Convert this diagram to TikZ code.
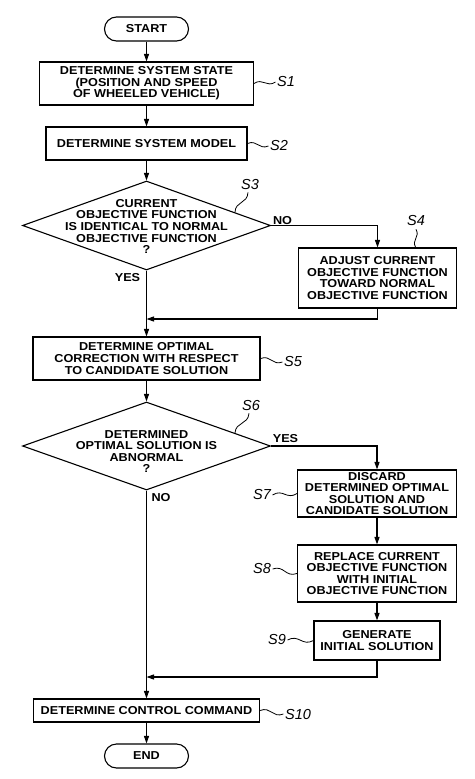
\documentclass[tikz,border=0pt]{standalone}
\usepackage{fontspec}
\setmainfont{Liberation Sans}
\newfontfamily\bxfont[FakeStretch=1.1]{Liberation Sans}
\usetikzlibrary{shapes.geometric,arrows.meta,calc}
\begin{document}
\begin{tikzpicture}[x=1pt,y=-1pt,
  every node/.style={inner sep=0pt},
  btxt/.style={align=center, font=\bxfont\bfseries\fontsize{11.5}{11.6}\selectfont},
  box/.style={btxt, draw, line width=1.1pt},
  term/.style={box, rounded corners=12pt},
  dia/.style={draw, diamond, line width=1.1pt},
  lab/.style={font=\itshape\fontsize{14.5}{14.5}\selectfont},
  ln/.style={line width=1.1pt},
  arr/.style={ln, -{Triangle[length=7.5pt,width=5pt]}},
  squig/.style={line width=0.8pt, to path={.. controls ($(\tikztostart)!0.5!30:(\tikztotarget)$) and ($(\tikztotarget)!0.5!30:(\tikztostart)$) .. (\tikztotarget)}}
]
\useasboundingbox (0,0) rectangle (474,779);

% nodes
\node[term, minimum width=84pt, minimum height=24pt] (start) at (146.5,29) {START};
\node[box, minimum width=214pt, minimum height=43pt] (s1) at (146.5,83.5) {DETERMINE SYSTEM STATE\\(POSITION AND SPEED\\OF WHEELED VEHICLE)};
\node[box, minimum width=201pt, minimum height=33pt] (s2) at (146.5,143.5) {DETERMINE SYSTEM MODEL};
\node[dia, minimum width=248pt, minimum height=89pt] (s3) at (146.5,225.5) {};
\node[btxt] (s3t) at (146.5,226.5) {CURRENT\\OBJECTIVE FUNCTION\\IS IDENTICAL TO NORMAL\\OBJECTIVE FUNCTION\\?};
\node[box, minimum width=158pt, minimum height=60pt] (s4) at (377.5,278) {ADJUST CURRENT\\OBJECTIVE FUNCTION\\TOWARD NORMAL\\OBJECTIVE FUNCTION};
\node[box, minimum width=227pt, minimum height=43pt] (s5) at (146.5,358.5) {DETERMINE OPTIMAL\\CORRECTION WITH RESPECT\\TO CANDIDATE SOLUTION};
\node[dia, minimum width=248pt, minimum height=88pt] (s6) at (146.5,446) {};
\node[btxt] (s6t) at (146.5,451.5) {DETERMINED\\OPTIMAL SOLUTION IS\\ABNORMAL\\?};
\node[box, minimum width=159pt, minimum height=47pt] (s7) at (377,493.5) {DISCARD\\DETERMINED OPTIMAL\\SOLUTION AND\\CANDIDATE SOLUTION};
\node[box, minimum width=159pt, minimum height=57pt] (s8) at (377,573.5) {REPLACE CURRENT\\OBJECTIVE FUNCTION\\WITH INITIAL\\OBJECTIVE FUNCTION};
\node[box, minimum width=126pt, minimum height=39pt] (s9) at (377,640.5) {GENERATE\\INITIAL SOLUTION};
\node[box, minimum width=226pt, minimum height=23pt] (s10) at (146.5,710.5) {DETERMINE CONTROL COMMAND};
\node[term, minimum width=84pt, minimum height=24pt] (end) at (146.5,756) {END};

% branch labels
\node[btxt] (no3) at (282.5,221) {NO};
\node[btxt] (yes3) at (127.5,277.5) {YES};
\node[btxt] (yes6) at (285.5,439) {YES};
\node[btxt] (no6) at (161,497.5) {NO};

% step labels
\node[lab] (l1) at (286,82) {S1};
\node[lab] (l2) at (279,146) {S2};
\node[lab] (l3) at (250,185) {S3};
\node[lab] (l4) at (416,221) {S4};
\node[lab] (l5) at (293,362) {S5};
\node[lab] (l6) at (251,406) {S6};
\node[lab] (l7) at (262,495) {S7};
\node[lab] (l8) at (262,569) {S8};
\node[lab] (l9) at (277,640) {S9};
\node[lab] (l10) at (298,714) {S10};

% helper coordinates
\coordinate (j1) at (146.5,319);
\coordinate (j2) at (146.5,677);
\coordinate (p3) at ($(s3.north)!0.71!(s3.east)$);
\coordinate (p6) at ($(s6.north)!0.71!(s6.east)$);
\coordinate (p4) at ($(s4.north west)!0.74!(s4.north east)$);

% connectors
\draw[arr] (start) -- (s1);
\draw[arr] (s1) -- (s2);
\draw[arr] (s2) -- (s3.north);
\draw[arr] (s3.east) -| (s4.north);
\draw[arr] (s3.south) -- (s5.north);
\draw[arr] (s4.south) |- (j1);
\draw[arr] (s5) -- (s6.north);
\draw[arr] (s6.east) -| (s7.north);
\draw[arr] (s7) -- (s8);
\draw[arr] (s8) -- (s9);
\draw[arr] (s9.south) |- (j2);
\draw[arr] (s6.south) -- (s10.north);
\draw[arr] (s10) -- (end);

% squiggles
\draw[squig] (s1.east) to ($(l1.west)+(-1.5,0)$);
\draw[squig] (s2.east) to ($(l2.west)+(-1.5,0)$);
\draw[squig] (p3) to ($(l3.south)+(-2,2)$);
\draw[squig] (p4) to ($(l4.south)+(0,3)$);
\draw[squig] (s5.east) to ($(l5.west)+(-1.5,0)$);
\draw[squig] (p6) to ($(l6.south)+(-2,2)$);
\draw[squig] ($(l7.east)+(1.5,0)$) to (s7.west);
\draw[squig] ($(l8.east)+(1.5,0)$) to (s8.west);
\draw[squig] ($(l9.east)+(1.5,0)$) to (s9.west);
\draw[squig] (s10.east) to ($(l10.west)+(-1.5,0)$);
\end{tikzpicture}
\end{document}
